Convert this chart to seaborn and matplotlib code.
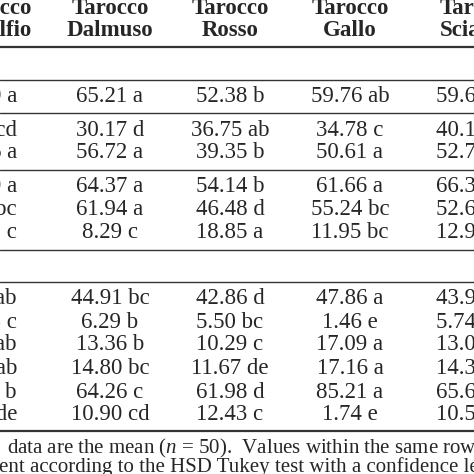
import matplotlib.pyplot as plt
import seaborn as sns

# table content (cropped view of a larger table)
headers = [("Tarocco", "Alfio"), ("Tarocco", "Dalmuso"), ("Tarocco", "Rosso"),
           ("Tarocco", "Gallo"), ("Tarocco", "Sciara")]
col_alfio = ["60.49 a", "", "33.41 bcd", "57.86 a", "", "65.09 a", "58.13 abc", "9.81 c",
             "", "", "45.12 ab", "4.63 c", "14.27 ab", "15.02 ab", "68.37 b", "8.52 de"]
col_dalmuso = ["65.21 a", "", "30.17 d", "56.72 a", "", "64.37 a", "61.94 a", "8.29 c",
               "", "", "44.91 bc", "6.29 b", "13.36 b", "14.80 bc", "64.26 c", "10.90 cd"]
col_rosso = ["52.38 b", "", "36.75 ab", "39.35 b", "", "54.14 b", "46.48 d", "18.85 a",
             "", "", "42.86 d", "5.50 bc", "10.29 c", "11.67 de", "61.98 d", "12.43 c"]
col_gallo = ["59.76 ab", "", "34.78 c", "50.61 a", "", "61.66 a", "55.24 bc", "11.95 bc",
             "", "", "47.86 a", "1.46 e", "17.09 a", "17.16 a", "85.21 a", "1.74 e"]
col_sci = ["59.64 a", "", "40.12 a", "52.73 a", "", "66.31 a", "52.66 c", "12.97 b",
           "", "", "43.94 c", "5.74 bc", "13.02 b", "14.33 bc", "65.67 c", "10.59 d"]
footnote = ["data are the mean ($n$ = 50).  Values within the same row that present",
            "ent according to the HSD Tukey test with a confidence level of 95%."]

sns.set_theme(style="white")
plt.rcParams["font.family"] = ["Liberation Serif", "DejaVu Serif"]
plt.rcParams["mathtext.fontset"] = "custom"
plt.rcParams["mathtext.it"] = "Liberation Serif:italic"

W = H = 474
fig = plt.figure(figsize=(4.74, 4.74), dpi=100)
fig.patch.set_facecolor("white")


def fx(px):
    return px / W


def fy(py):
    return 1 - py / H


FS = 16.5
# (x anchor px, alignment) per column
col_pos = [(17, "right"), (110, "center"), (230, "center"), (350, "center"), (436, "left")]
head_pos = [(32, "right"), (110, "center"), (230, "center"), (350, "center"), (440, "left")]
for (x, ha), (h1, h2) in zip(head_pos, headers):
    fig.text(fx(x), fy(8), h1, ha=ha, va="center", fontsize=FS, fontweight="bold")
    fig.text(fx(x), fy(30), h2, ha=ha, va="center", fontsize=FS, fontweight="bold")

row_y = [97, None, 130, 153, None, 187, 210, 233, None, None, 298, 322, 345, 368, 392, 414]
cols = [col_alfio, col_dalmuso, col_rosso, col_gallo, col_sci]
for (x, ha), col in zip(col_pos, cols):
    for y, val in zip(row_y, col):
        if y is None or not val:
            continue
        fig.text(fx(x), fy(y), val, ha=ha, va="center", fontsize=FS)

for y, lw in [(47, 1.6), (80, 1.0), (113, 1.0), (170, 1.0), (250, 1.0), (282, 1.0), (431, 1.6)]:
    fig.add_artist(plt.Line2D([0, 1], [fy(y), fy(y)], color="#333333", lw=lw))

fig.text(fx(7), fy(448), footnote[0], ha="left", va="center", fontsize=15)
fig.text(fx(-1), fy(467), footnote[1], ha="left", va="center", fontsize=15)

fig.savefig("out.png", dpi=100)
